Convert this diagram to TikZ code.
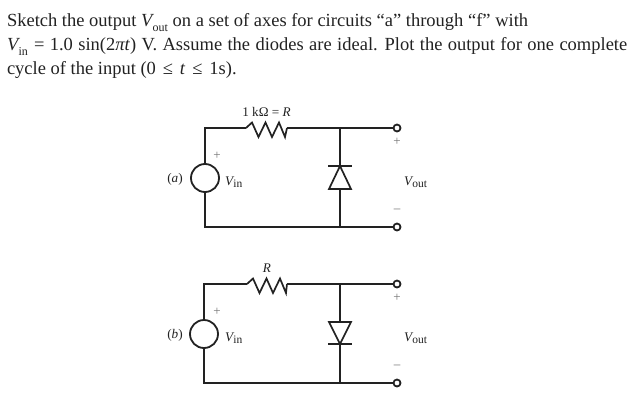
\documentclass[tikz,border=0pt]{standalone}
\usepackage{fontspec}
\usetikzlibrary{calc}
\setmainfont{Liberation Serif}
\definecolor{ink}{HTML}{222222}
\tikzset{
  wire/.style={draw=ink,line width=1.7pt,line join=miter},
  thinwire/.style={draw=ink,line width=1.3pt},
  terminal/.style={circle,draw=ink,line width=1.8pt,fill=white,inner sep=0pt,minimum size=7pt},
  source/.style={circle,draw=ink,line width=1.8pt,fill=white,inner sep=0pt,minimum size=28pt},
  body/.style={anchor=base west,inner sep=0pt,outer sep=0pt,text=ink,font=\fontsize{18.5pt}{20pt}\selectfont},
  lab/.style={anchor=base,inner sep=0pt,outer sep=0pt,text=ink,font=\fontsize{13.2pt}{14pt}\selectfont},
  pm/.style={anchor=center,inner sep=0pt,outer sep=0pt,text=black!55,font=\fontsize{13pt}{14pt}\selectfont}
}
\newcommand{\Vsub}[1]{\textit{V}\kern-1pt\raisebox{-0.2em}{\fontsize{11.5pt}{12pt}\selectfont #1}}
\newcommand{\BVsub}[1]{\textit{V}\kern-1.5pt\raisebox{-0.3em}{\fontsize{12pt}{13pt}\selectfont #1}}
\begin{document}
\begin{tikzpicture}[x=1pt,y=-1pt]
\useasboundingbox (0,0) rectangle (632,407);
% text
\node[body] (t1) at (7,26) {Sketch the output \BVsub{out} on a set of axes for circuits “a” through “f” with};
\node[body] (t2) at (7,50) {\spaceskip=1.16\fontdimen2\font\BVsub{in}\,\,= 1.0 sin(2\textit{πt}) V. Assume the diodes are ideal. Plot the output for one complete};
\node[body] (t3) at (7,74) {cycle of the input (0\kern2.3pt{} ≤\kern2.3pt{} \textit{t}\kern2.3pt{} ≤\kern2.3pt{} 1s).};
% circuit a
\coordinate (atl) at (205,128);
\coordinate (ar1) at (246,128);
\coordinate (ar2) at (287,128);
\coordinate (aj) at (340,128);
\coordinate (abl) at (205,227);
\coordinate (ajb) at (340,227);
\coordinate (abar) at (340,166);
\coordinate (abase) at (340,189);
\node[source] (as) at (205,178) {};
\node[terminal] (ao1) at (397,128) {};
\node[terminal] (ao2) at (397,227) {};
\draw[wire] (as) -- (atl) -- (ar1);
\draw[wire] (ar1) -- ++(6,-5.5) -- ++(6.5,14.5) -- ++(7,-14.5) -- ++(6.5,14.5) -- ++(7,-14.5) -- ++(6,14.5) -- (ar2);
\draw[wire] (ar2) -- (aj) -- (ao1);
\draw[wire] (as) -- (abl) -- (ajb) -- (ao2);
\draw[thinwire] (aj) -- (abar);
\draw[thinwire] (abase) -- (ajb);
\draw[wire] ($(abar)+(-12,0)$) -- ($(abar)+(12,0)$);
\draw[wire] (abar) -- ($(abase)+(11,0)$) -- ($(abase)+(-11,0)$) -- cycle;
\node[lab] (alr) at (266.5,116) {1 kΩ = \textit{R}};
\node[lab] (aa) at (175,182) {(\textit{a})};
\node[lab,anchor=base west] (avin) at (225,185) {\Vsub{in}};
\node[lab,anchor=base west] (avout) at (404,185) {\Vsub{out}};
\node[pm] (ap1) at (217,156) {+};
\node[pm] (ap2) at (397,142) {+};
\node[pm] (am) at (397,211) {–};
% circuit b
\coordinate (btl) at (204,284);
\coordinate (br1) at (247,284);
\coordinate (br2) at (287,284);
\coordinate (bj) at (340,284);
\coordinate (bbl) at (204,383);
\coordinate (bjb) at (340,383);
\coordinate (bbar) at (340,344);
\coordinate (bbase) at (340,322);
\node[source] (bs) at (204,334) {};
\node[terminal] (bo1) at (397,284) {};
\node[terminal] (bo2) at (397,383) {};
\draw[wire] (bs) -- (btl) -- (br1);
\draw[wire] (br1) -- ++(6,-5.5) -- ++(6.5,14.5) -- ++(7,-14.5) -- ++(6.5,14.5) -- ++(7,-14.5) -- ++(6,14.5) -- (br2);
\draw[wire] (br2) -- (bj) -- (bo1);
\draw[wire] (bs) -- (bbl) -- (bjb) -- (bo2);
\draw[thinwire] (bj) -- (bbase);
\draw[thinwire] (bbar) -- (bjb);
\draw[wire] ($(bbar)+(-12,0)$) -- ($(bbar)+(12,0)$);
\draw[wire] (bbar) -- ($(bbase)+(11,0)$) -- ($(bbase)+(-11,0)$) -- cycle;
\node[lab] (blr) at (267,272) {\textit{R}};
\node[lab] (bb) at (175,338) {(\textit{b})};
\node[lab,anchor=base west] (bvin) at (225,341) {\Vsub{in}};
\node[lab,anchor=base west] (bvout) at (404,341) {\Vsub{out}};
\node[pm] (bp1) at (217,312) {+};
\node[pm] (bp2) at (397,298) {+};
\node[pm] (bm) at (397,367) {–};
\end{tikzpicture}
\end{document}
